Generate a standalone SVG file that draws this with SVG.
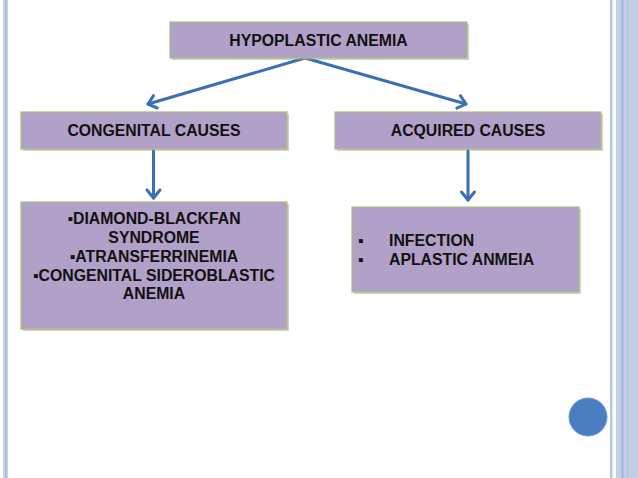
<svg xmlns="http://www.w3.org/2000/svg" width="638" height="478" viewBox="0 0 638 478">
<defs>
<style>
.box{fill:#B1A0C7;stroke:#A9BE78;stroke-width:1.2}
.sh{fill:#9a9a9a;opacity:0.45}
.t{font-family:"Liberation Sans",Arial,sans-serif;font-weight:bold;font-size:15.8px;fill:#111;text-anchor:middle}
.tl{font-family:"Liberation Sans",Arial,sans-serif;font-weight:bold;font-size:15.8px;fill:#111}
.c{fill:none;stroke:#3B6FB6;stroke-width:3;stroke-linecap:round;stroke-linejoin:round}
</style>
</defs>
<rect width="638" height="478" fill="#fff"/>
<rect x="3" y="0" width="5" height="478" fill="#C9D3E6"/>
<rect x="5" y="0" width="1.5" height="478" fill="#A8B7D6"/>
<rect x="610" y="0" width="2.5" height="478" fill="#BCC8E0"/>
<rect x="616" y="0" width="22" height="478" fill="#C3CEE4"/>
<rect x="621.5" y="0" width="2" height="478" fill="#A5B5D5"/>
<rect x="627" y="0" width="1" height="478" fill="#B2C0DC"/>
<g id="connectors">
<path class="c" d="M305,58 L148,104"/>
<path class="c" d="M153.5,95.7 L148,104 L157.2,108"/>
<path class="c" d="M305,58 L466,104"/>
<path class="c" d="M460.4,95.7 L466,104 L456.9,108.1"/>
<path class="c" d="M153.5,150 L153.5,198"/>
<path class="c" d="M147,190 L153.5,198 L160,190"/>
<path class="c" d="M468,150 L468,200"/>
<path class="c" d="M461.5,192 L468,200 L474.5,192"/>
</g>
<g id="n-top">
<rect class="sh" x="172" y="24" width="297" height="36"/>
<rect class="box" x="170" y="22" width="297" height="36"/>
<text class="t" x="318.5" y="46">HYPOPLASTIC ANEMIA</text>
</g>
<g id="n-congenital">
<rect class="sh" x="23" y="114" width="266" height="37"/>
<rect class="box" x="21" y="112" width="266" height="37"/>
<text class="t" x="154" y="136">CONGENITAL CAUSES</text>
</g>
<g id="n-acquired">
<rect class="sh" x="337" y="114" width="266" height="37"/>
<rect class="box" x="335" y="112" width="266" height="37"/>
<text class="t" x="468" y="136">ACQUIRED CAUSES</text>
</g>
<g id="n-congenital-list">
<rect class="sh" x="23" y="204" width="266" height="127"/>
<rect class="box" x="21" y="202" width="266" height="127"/>
<text class="t" x="154" y="224">▪DIAMOND-BLACKFAN</text>
<text class="t" x="154" y="243">SYNDROME</text>
<text class="t" x="154" y="262">▪ATRANSFERRINEMIA</text>
<text class="t" x="154" y="280.5">▪CONGENITAL SIDEROBLASTIC</text>
<text class="t" x="154" y="299">ANEMIA</text>
</g>
<g id="n-acquired-list">
<rect class="sh" x="354" y="209" width="227" height="85"/>
<rect class="box" x="352" y="207" width="227" height="85"/>
<text class="tl" x="358" y="246">▪</text>
<text class="tl" x="389" y="246">INFECTION</text>
<text class="tl" x="358" y="265">▪</text>
<text class="tl" x="389" y="265">APLASTIC ANMEIA</text>
</g>
<circle cx="588" cy="417" r="19" fill="#4A7EC2" stroke="#6E98CF" stroke-width="1"/>
</svg>
